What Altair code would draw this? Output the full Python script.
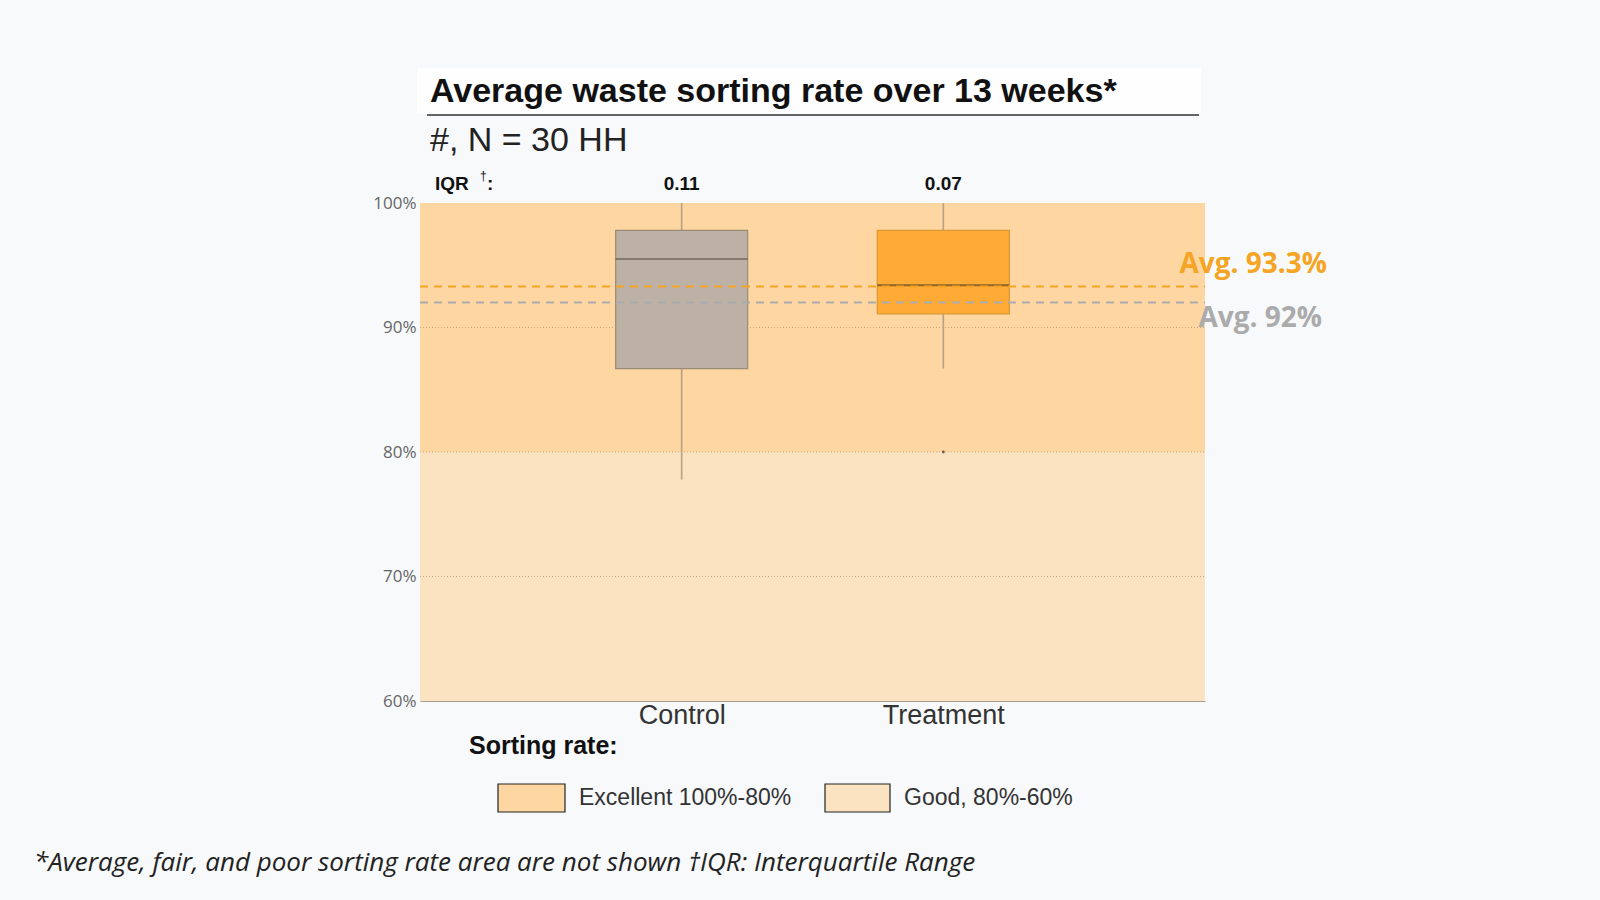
import altair as alt
import pandas as pd

# ---------------- data ----------------
groups = ["Control", "Treatment"]
q1 = [0.867, 0.911]
q3 = [0.978, 0.978]
medians = [0.955, 0.934]
whisker_low = [0.778, 0.867]
whisker_high = [1.0, 1.0]
iqr_labels = ["0.11", "0.07"]
box_colors = ["#BCB1A4", "#FFAB35"]
box_strokes = ["#9A8A78", "#DB9733"]
median_colors = ["#6C6258", "#5E4424"]

outlier_groups = ["Treatment"]
outlier_values = [0.80]

avg_labels = ["Avg. 93.3%", "Avg. 92%"]
avg_values = [0.933, 0.92]
avg_colors = ["#F5A524", "#ABABAB"]

band_names = ["Excellent 100%-80%", "Good, 80%-60%"]
band_low = [0.8, 0.6]
band_high = [1.0, 0.8]
band_colors = ["#FDD6A2", "#FBE2C1"]

grid_values = [0.7, 0.8, 0.9]
y_ticks = [0.6, 0.7, 0.8, 0.9, 1.0]

title_text = "Average waste sorting rate over 13 weeks*"
subtitle_text = "#, N = 30 HH"
legend_title = "Sorting rate:"
footnote_text = "*Average, fair, and poor sorting rate area are not shown \u2020IQR: Interquartile Range"

# ---------------- frames ----------------
W, H = 785, 498
boxes = pd.DataFrame({
    "group": groups, "q1": q1, "q3": q3, "median": medians,
    "low": whisker_low, "high": whisker_high, "iqr": iqr_labels,
    "fill": box_colors, "stroke": box_strokes, "mcol": median_colors,
})
bands = pd.DataFrame({"name": band_names, "low": band_low, "high": band_high, "col": band_colors})
grid = pd.DataFrame({"v": grid_values})
avgs = pd.DataFrame({"label": avg_labels, "v": avg_values, "col": avg_colors})
outl = pd.DataFrame({"group": outlier_groups, "v": outlier_values})

SANS = "Liberation Sans"
ROUND = "Open Sans"

xenc = alt.X("group:N",
             scale=alt.Scale(type="point", domain=groups, padding=1),
             axis=alt.Axis(title=None, labelAngle=0, ticks=False, domain=True,
                           domainColor="#A89C8E", domainWidth=1.2,
                           labelFontSize=27, labelColor="#333333", labelFont=SANS,
                           labelPadding=1))
yscale = alt.Scale(domain=[0.6, 1.0], nice=False, zero=False)
yaxis = alt.Axis(values=y_ticks, format=".0%", grid=False, ticks=False, domain=False,
                 labelFontSize=17, labelColor="#666666", labelFont=ROUND, labelPadding=4,
                 title=None)


def Y(field):
    return alt.Y(field, scale=yscale, axis=yaxis)


band_layer = alt.Chart(bands).mark_rect().encode(
    x=alt.value(0), x2=alt.value(W),
    y=Y("low:Q"), y2="high:Q",
    color=alt.Color("col:N", scale=None),
)

grid_layer = alt.Chart(grid).mark_rule(strokeDash=[1, 2], color="#B8956A", opacity=0.75, strokeWidth=1).encode(
    x=alt.value(0), x2=alt.value(W), y=Y("v:Q")
)

whisk = alt.Chart(boxes).mark_rule(color="#B8A286", strokeWidth=1.6).encode(
    x=xenc, y=Y("low:Q"), y2="high:Q"
)

box = alt.Chart(boxes).mark_bar(size=132, strokeWidth=1.2).encode(
    x=xenc, y=Y("q1:Q"), y2="q3:Q",
    color=alt.Color("fill:N", scale=None), stroke=alt.Stroke("stroke:N", scale=None),
)

med = alt.Chart(boxes).mark_tick(size=132, thickness=2).encode(
    x=xenc, y=Y("median:Q"),
    color=alt.Color("mcol:N", scale=None),
)

avg_rules = alt.Chart(avgs).mark_rule(strokeDash=[8, 6], strokeWidth=2).encode(
    x=alt.value(0), x2=alt.value(W), y=Y("v:Q"),
    color=alt.Color("col:N", scale=None),
)

avg_hi = alt.Chart(avgs.iloc[[0]]).mark_text(align="right", baseline="middle", dy=-21,
                                             font=ROUND, fontWeight="bold", fontSize=28).encode(
    x=alt.value(907), y=Y("v:Q"), text="label:N",
    color=alt.Color("col:N", scale=None),
)
avg_lo = alt.Chart(avgs.iloc[[1]]).mark_text(align="right", baseline="middle", dy=16,
                                             font=ROUND, fontWeight="bold", fontSize=28).encode(
    x=alt.value(902), y=Y("v:Q"), text="label:N",
    color=alt.Color("col:N", scale=None),
)

outlier = alt.Chart(outl).mark_point(filled=True, size=8, color="#6E5E4A", opacity=1).encode(
    x=xenc, y=Y("v:Q")
)

iqr_vals = alt.Chart(boxes).mark_text(baseline="middle", font=SANS, fontWeight="bold",
                                      fontSize=19, color="#111111").encode(
    x=xenc, y=alt.value(-19), text="iqr:N"
)

one = pd.DataFrame({"k": [0]})


def txt(s, x, y, **kw):
    return alt.Chart(one).mark_text(text=s, **kw).encode(x=alt.value(x), y=alt.value(y))


def box_rect(x1, x2, y1, y2, color, **kw):
    return alt.Chart(one).mark_rect(color=color, **kw).encode(
        x=alt.value(x1), x2=alt.value(x2), y=alt.value(y1), y2=alt.value(y2))


title_bg = box_rect(-3, 781, -135, -89, "#FFFFFF", opacity=0.85)
title = txt(title_text, 10, -111, align="left", baseline="middle", font=SANS,
            fontWeight="bold", fontSize=34, color="#111111")
underline = alt.Chart(one).mark_rule(color="#333333", strokeWidth=1.4).encode(
    x=alt.value(7), x2=alt.value(779), y=alt.value(-88))
subtitle = txt(subtitle_text, 10, -62, align="left", baseline="middle", font=SANS,
               fontSize=34, color="#222222")
iqr_a = txt("IQR", 15, -19, align="left", baseline="middle", font=SANS, fontWeight="bold",
            fontSize=19, color="#111111")
iqr_b = txt("\u2020", 60, -27, align="left", baseline="middle", font=SANS,
            fontSize=12, color="#111111")
iqr_c = txt(":", 67, -19, align="left", baseline="middle", font=SANS, fontWeight="bold",
            fontSize=19, color="#111111")

leg_title = txt(legend_title, 49, 543, align="left", baseline="middle", font=SANS,
                fontWeight="bold", fontSize=25, color="#111111")
sw1 = box_rect(78, 145, 581, 609, band_colors[0], stroke="#222222", strokeWidth=1.2)
sw1t = txt(band_names[0], 159, 595, align="left", baseline="middle", font=SANS,
           fontSize=23, color="#333333")
sw2 = box_rect(405, 470, 581, 609, band_colors[1], stroke="#222222", strokeWidth=1.2)
sw2t = txt(band_names[1], 484, 595, align="left", baseline="middle", font=SANS,
           fontSize=23, color="#333333")

foot = txt(footnote_text, -386, 660, align="left", baseline="middle", font=ROUND,
           fontStyle="italic", fontSize=26, color="#222222")

chart = alt.layer(
    band_layer, grid_layer, whisk, box, med, avg_rules, outlier, avg_hi, avg_lo,
    iqr_vals, title_bg, title, underline, subtitle, iqr_a, iqr_b, iqr_c,
    leg_title, sw1, sw1t, sw2, sw2t, foot,
).properties(
    width=W, height=H,
    autosize=alt.AutoSizeParams(type="none"),
    padding={"left": 420, "top": 203, "right": 395, "bottom": 199},
    background="#F7F9FB",
).configure_view(stroke=None)

chart.save("out.html", embed_options={"renderer": "svg", "actions": False})
